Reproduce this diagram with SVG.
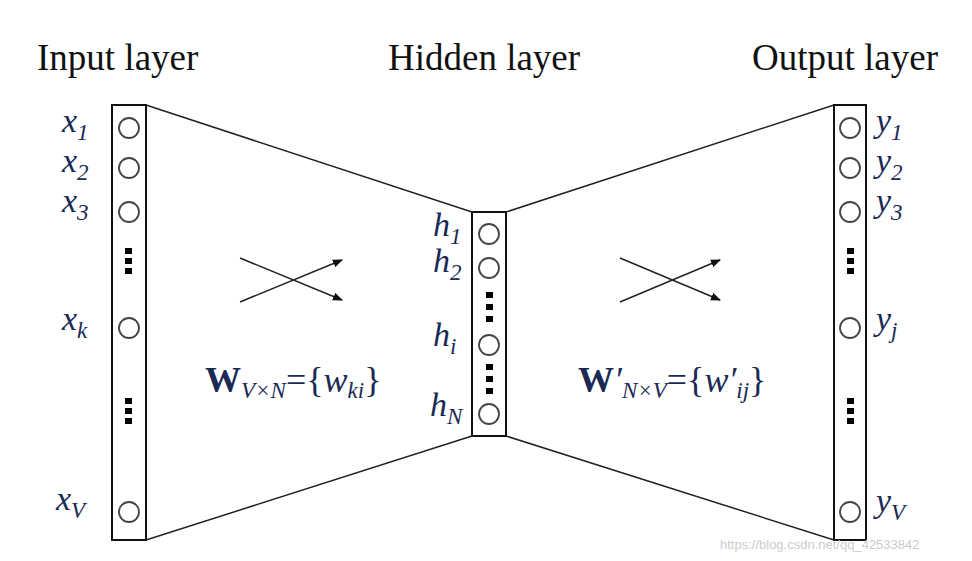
<svg xmlns="http://www.w3.org/2000/svg" width="972" height="561" viewBox="0 0 972 561">
<style>
.t{font-family:"Liberation Serif",serif;fill:#111}
.h{font-size:37px}
.v{font-size:34px;font-style:italic;fill:#1a2a55}
.s{font-size:23px}
.box{fill:none;stroke:#111;stroke-width:2}
.c{fill:none;stroke:#444;stroke-width:1.8}
.l{stroke:#222;stroke-width:1.5;fill:none}
.d{fill:#000}
</style>
<defs><marker id="a" viewBox="0 0 10 10" refX="9" refY="5" markerWidth="10" markerHeight="10" markerUnits="userSpaceOnUse" orient="auto"><path d="M0,1 L10,5 L0,9 z" fill="#111"/></marker></defs>
<rect width="972" height="561" fill="#fff"/>
<g id="connectors">
<line class="l" x1="146" y1="105" x2="472" y2="212"/>
<line class="l" x1="146" y1="540" x2="472" y2="436"/>
<line class="l" x1="506" y1="212" x2="834" y2="105"/>
<line class="l" x1="506" y1="436" x2="834" y2="540"/>
<line class="l" x1="240" y1="258" x2="342" y2="300" marker-end="url(#a)"/>
<line class="l" x1="240" y1="302" x2="342" y2="260" marker-end="url(#a)"/>
<line class="l" x1="620" y1="258" x2="720" y2="300" marker-end="url(#a)"/>
<line class="l" x1="620" y1="302" x2="720" y2="260" marker-end="url(#a)"/>
</g>
<g id="input">
<text class="t h" x="37" y="70">Input layer</text>
<rect class="box" x="112" y="105" width="34" height="435"/>
<circle class="c" cx="129" cy="128" r="10"/><circle class="c" cx="129" cy="168" r="10"/><circle class="c" cx="129" cy="212" r="10"/><circle class="c" cx="129" cy="328" r="10"/><circle class="c" cx="129" cy="512" r="10"/>
<rect class="d" x="125" y="248" width="7" height="6"/><rect class="d" x="125" y="258" width="7" height="6"/><rect class="d" x="125" y="268" width="7" height="6"/>
<rect class="d" x="125" y="398" width="7" height="6"/><rect class="d" x="125" y="408" width="7" height="6"/><rect class="d" x="125" y="418" width="7" height="6"/>
<text class="t v" x="62" y="132">x<tspan class="s" dy="8">1</tspan></text>
<text class="t v" x="62" y="172">x<tspan class="s" dy="8">2</tspan></text>
<text class="t v" x="62" y="212">x<tspan class="s" dy="8">3</tspan></text>
<text class="t v" x="62" y="330">x<tspan class="s" dy="8">k</tspan></text>
<text class="t v" x="56" y="510">x<tspan class="s" dy="8">V</tspan></text>
</g>
<g id="hidden">
<text class="t h" x="388" y="70">Hidden layer</text>
<rect class="box" x="472" y="212" width="34" height="224"/>
<circle class="c" cx="489" cy="234" r="10"/><circle class="c" cx="489" cy="268" r="10"/><circle class="c" cx="489" cy="345" r="10"/><circle class="c" cx="489" cy="414" r="10"/>
<rect class="d" x="486" y="292" width="7" height="6"/><rect class="d" x="486" y="304" width="7" height="6"/><rect class="d" x="486" y="316" width="7" height="6"/>
<rect class="d" x="486" y="364" width="7" height="6"/><rect class="d" x="486" y="376" width="7" height="6"/><rect class="d" x="486" y="388" width="7" height="6"/>
<text class="t v" x="433" y="236">h<tspan class="s" dy="8">1</tspan></text>
<text class="t v" x="433" y="272">h<tspan class="s" dy="8">2</tspan></text>
<text class="t v" x="433" y="346">h<tspan class="s" dy="8">i</tspan></text>
<text class="t v" x="430" y="416">h<tspan class="s" dy="8">N</tspan></text>
</g>
<g id="output">
<text class="t h" x="752" y="70">Output layer</text>
<rect class="box" x="834" y="105" width="32" height="435"/>
<circle class="c" cx="850" cy="128" r="10"/><circle class="c" cx="850" cy="168" r="10"/><circle class="c" cx="850" cy="212" r="10"/><circle class="c" cx="850" cy="328" r="10"/><circle class="c" cx="850" cy="512" r="10"/>
<rect class="d" x="847" y="248" width="7" height="6"/><rect class="d" x="847" y="258" width="7" height="6"/><rect class="d" x="847" y="268" width="7" height="6"/>
<rect class="d" x="847" y="398" width="7" height="6"/><rect class="d" x="847" y="408" width="7" height="6"/><rect class="d" x="847" y="418" width="7" height="6"/>
<text class="t v" x="876" y="132">y<tspan class="s" dy="8">1</tspan></text>
<text class="t v" x="876" y="172">y<tspan class="s" dy="8">2</tspan></text>
<text class="t v" x="876" y="212">y<tspan class="s" dy="8">3</tspan></text>
<text class="t v" x="876" y="330">y<tspan class="s" dy="8">j</tspan></text>
<text class="t v" x="876" y="512">y<tspan class="s" dy="8">V</tspan></text>
</g>
<g id="weights">
<text class="t" x="205" y="392" style="font-size:36px;fill:#1a2a55"><tspan font-weight="bold">W</tspan><tspan class="s" font-style="italic" dy="6">V×N</tspan><tspan dy="-6">={</tspan><tspan font-style="italic">w</tspan><tspan class="s" font-style="italic" dy="6">ki</tspan><tspan dy="-6">}</tspan></text>
<text class="t" x="578" y="392" style="font-size:36px;fill:#1a2a55"><tspan font-weight="bold">W</tspan><tspan font-style="italic">′</tspan><tspan class="s" font-style="italic" dy="6">N×V</tspan><tspan dy="-6">={</tspan><tspan font-style="italic">w′</tspan><tspan class="s" font-style="italic" dy="6">ij</tspan><tspan dy="-6">}</tspan></text>
</g>
<text x="720" y="549" style="font-family:'Liberation Sans',sans-serif;font-size:13px;fill:#ccc">https://blog.csdn.net/qq_42533842</text>
</svg>
